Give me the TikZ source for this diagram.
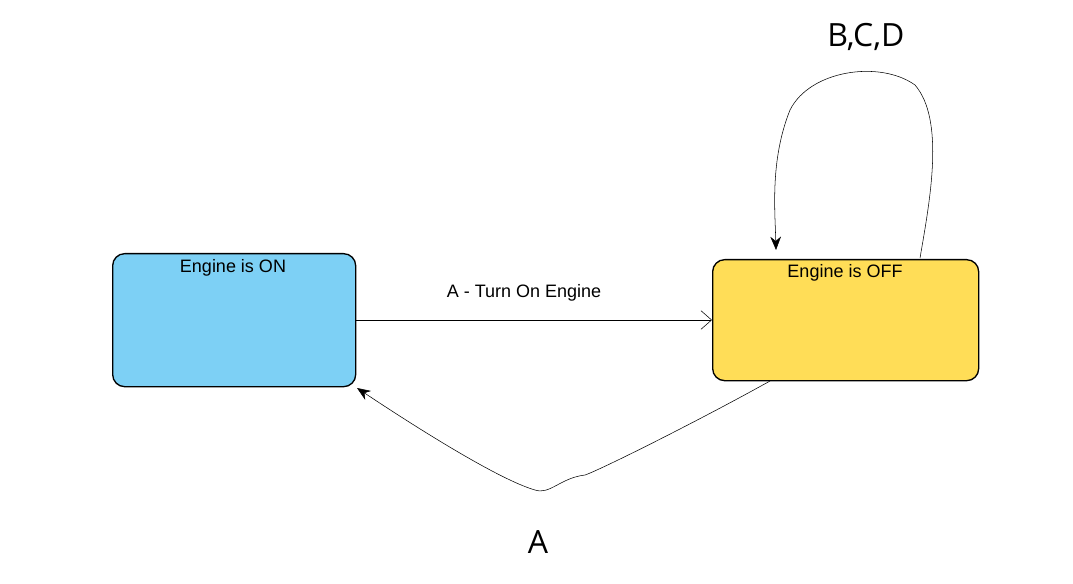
\documentclass[tikz,border=0pt]{standalone}
\usepackage{fontspec}
\setmainfont{Liberation Sans}
\newfontfamily\bigfnt{Open Sans}
\usetikzlibrary{arrows.meta}
\definecolor{onblue}{HTML}{7DD0F5}
\definecolor{offyel}{HTML}{FFDD57}
\begin{document}
\begin{tikzpicture}[x=0.75pt,y=-0.75pt,
  state/.style={draw,line width=1pt,rounded corners=9pt,anchor=north west,inner sep=0pt},
  small/.style={font=\fontsize{13.5}{14}\selectfont},
  large/.style={font=\bigfnt\fontsize{24}{26}\selectfont}]
\useasboundingbox (0,0) rectangle (1073,584);
\node[state,fill=onblue,minimum width=243*0.75pt,minimum height=133*0.75pt] (on) at (112,253) {};
\node[state,fill=offyel,minimum width=266*0.75pt,minimum height=121*0.75pt] (off) at (712,259) {};
\node[small] (ont) at (233,268) {Engine is ON};
\node[small] (offt) at (845,273) {Engine is OFF};
\node[small] (lab1) at (524,293) {A - Turn On Engine};
\node[large] (labA) at (538,542) {A};
\node[large] (labB) at (866,37) {B,C,D};
\coordinate (s1) at (770,381);
\coordinate (s2) at (920,258);
\draw[-{Straight Barb[length=8pt,width=14pt]}] (on.east |- 0,320) -- (off.west |- 0,320);
\draw[-{Stealth[length=10pt,width=8pt]}] (s1) .. controls (700,420) and (600,470) .. (585,475)
  .. controls (560,478) and (550,495) .. (535,490)
  .. controls (500,480) and (420,430) .. (357,388);
\draw[-{Stealth[length=10pt,width=8pt]}] (s2) .. controls (930,200) and (945,120) .. (915,85)
  .. controls (880,60) and (810,70) .. (790,110)
  .. controls (770,160) and (775,210) .. (776,250);
\end{tikzpicture}
\end{document}
